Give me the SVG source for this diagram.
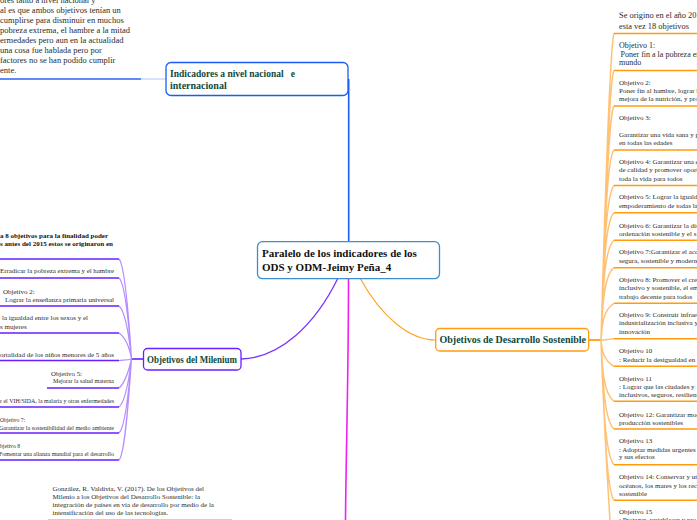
<svg xmlns="http://www.w3.org/2000/svg" width="697" height="520" viewBox="0 0 697 520">
<style>
text{font-family:"Liberation Serif",serif;fill:#2b2b2b}
.t{font-size:7px}
.b{font-size:6.800px;font-weight:bold;fill:#111}
.n{font-size:8.500px}
.r7{font-size:7px}
.r8{font-size:8px}
.h{font-size:10px;font-weight:bold;fill:#0f4a3c}
.c{font-size:11px;font-weight:bold;fill:#111}
.r{fill:#fff;stroke-width:1.3}
.p{fill:none;stroke:#6a1fff}.pl{fill:none;stroke:#b48cff;stroke-width:1.200}
.o{fill:none;stroke:#ff9c0f}.ol{fill:none;stroke:#ffc274;stroke-width:1.500}
</style>
<g id="connectors">
<path d="M348.700 242V79" fill="none" stroke="#1a5cf5" stroke-width="1.6"/>
<path d="M0 79H141" fill="none" stroke="#2a62f0" stroke-width="1.4"/>
<path d="M141 79H166" fill="none" stroke="#bcd0fa" stroke-width="1.200"/>
<path d="M348.500 278C348.500 380 346 450 345.500 520" fill="none" stroke="#f020f0" stroke-width="1.6"/>
<path d="M338 278C315 325 280 358 241 359" fill="none" stroke="#7a33ff" stroke-width="1.300"/>
<path d="M360 278C382 318 410 340 435.500 340" fill="none" stroke="#ffa526" stroke-width="1.200"/>
<path d="M143 359H131.500" class="p" stroke-width="1.600"/>
<path class="pl" d="M131.500 359C129 320 125 265 119 259M131.500 359C129 325 125 283 119 278M131.500 359C129 335 125 311 119 306M131.500 359C129 345 125 337 119 333M131.500 359C128 360 124 360 119 360.500M131.500 359C129 370 125 383 119 388M131.500 359C129 380 125 402 119 407M131.500 359C129 390 125 428 119 433M131.500 359C129 395 125 455 119 460"/>
<path class="p" stroke-width="1.500" d="M0 259H119M0 278H119M0 306H119M0 333H119M0 360.500H119M47 388H119M0 407H119M0 433H119M0 460H119"/>
<path d="M48 519.500H232" fill="none" stroke="#f0b8f0" stroke-width="1"/>
<path d="M589 340H601" class="o" stroke-width="1.800"/>
<path class="ol" d="M601 340C605 200 610 45 614 33.500M601 340C605 220 609 80 614 70.500M601 340C604 240 608 115 614 106M601 340C604 260 606 158 614 150M601 340C603 280 605 195 614 185.500M601 340C603 290 604 222 614 212.700M601 340C603 300 603 250 614 240.300M601 340C602 315 603 276 614 267.700M601 340C602 325 603 310 614 303.300M601 340C605 340 609 339 614 338.700M601 340C602 350 603 360 614 366.300M601 340C602 365 603 393 614 401.300M601 340C603 380 604 420 614 429M601 340C603 400 605 455 614 464.700M601 340C604 410 606 490 614 500.300M601 340C604 420 608 490 610 520"/>
<path class="o" stroke-width="1.500" d="M614 33.500H697M614 70.500H697M614 106H697M614 150H697M614 185.500H697M614 212.700H697M614 240.300H697M614 267.700H697M614 303.300H697M614 338.700H697M614 366.300H697M614 401.300H697M614 429H697M614 464.700H697M614 500.300H697"/>
</g>
<g id="note-indicadores" class="n">
<text x="0" y="3">ores tanto a nivel nacional y</text>
<text x="0" y="12.500">al es que ambos objetivos tenían un</text>
<text x="0" y="22.500">cumplirse para disminuir en muchos</text>
<text x="0" y="32.500">pobreza extrema, el hambre a la mitad</text>
<text x="0" y="42.500">ermedades pero aun en la actualidad</text>
<text x="0" y="52.500">una cosa fue hablada pero por</text>
<text x="0" y="62.500">factores no se han podido cumplir</text>
<text x="0" y="72.500">ente.</text>
</g>
<g id="node-indicadores"><rect class="r" x="166" y="62.500" width="182" height="33" rx="5" stroke="#1a5cf5"/><text class="h" x="170" y="77" xml:space="preserve" textLength="125" lengthAdjust="spacingAndGlyphs">Indicadores a nivel nacional   e</text><text class="h" x="170" y="88.500">internacional</text></g>
<g id="node-central"><rect class="r" x="257.500" y="241.700" width="182" height="37" rx="5" stroke="#3b8ed0"/><text class="c" x="262" y="257">Paralelo de los indicadores de los</text><text class="c" x="262" y="270.500">ODS y ODM-Jeimy Peña_4</text></g>
<g id="node-milenium"><rect class="r" x="143.500" y="348.500" width="97.500" height="21.500" rx="4" stroke="#6a1fff"/><text class="h" x="147" y="362.500" textLength="90" lengthAdjust="spacingAndGlyphs">Objetivos del Milenium</text></g>
<g id="node-ods"><rect class="r" x="435.700" y="328.500" width="153" height="22.500" rx="4" stroke="#ff9c0f"/><text class="h" x="439.500" y="343" textLength="146.500" lengthAdjust="spacingAndGlyphs">Objetivos de Desarrollo Sostenible</text></g>
<g id="left-items" class="t">
<text class="b" x="0" y="237.500" textLength="108" lengthAdjust="spacingAndGlyphs">a 8 objetivos para la finalidad poder</text>
<text class="b" x="0" y="246" textLength="113" lengthAdjust="spacingAndGlyphs">s antes del 2015 estos se originaron en</text>
<text x="0" y="273" textLength="114" lengthAdjust="spacingAndGlyphs">Erradicar la pobreza extrema y el hambre</text>
<text x="3" y="293.500">Objetivo 2:</text><text x="5" y="301.500" textLength="109" lengthAdjust="spacingAndGlyphs">Lograr la enseñanza primaria universal</text>
<text x="2" y="320" textLength="86" lengthAdjust="spacingAndGlyphs">la igualdad entre los sexos y el</text><text x="0" y="328.500">s mujeres</text>
<text x="0" y="356.500" textLength="114" lengthAdjust="spacingAndGlyphs">ortalidad de los niños menores de 5 años</text>
<text x="51" y="375.500" textLength="31" lengthAdjust="spacingAndGlyphs">Objetivo 5:</text><text x="53" y="383" textLength="61" lengthAdjust="spacingAndGlyphs">Mejorar la salud materna</text>
<text x="0" y="402.500" textLength="114" lengthAdjust="spacingAndGlyphs">r el VIH/SIDA, la malaria y otras enfermedades</text>
<text x="0" y="421.500" textLength="25" lengthAdjust="spacingAndGlyphs">Objetivo 7:</text><text x="-1" y="429.500" textLength="115" lengthAdjust="spacingAndGlyphs">Garantizar la sostenibilidad del medio ambiente</text>
<text x="0" y="448" textLength="20" lengthAdjust="spacingAndGlyphs">bjetivo 8</text><text x="-1" y="455.500" textLength="115" lengthAdjust="spacingAndGlyphs">Fomentar una alianza mundial para el desarrollo</text>
</g>
<g id="ref" class="t">
<text x="52.500" y="491" textLength="151.500" lengthAdjust="spacingAndGlyphs">González, R. Valdivia, V. (2017). De los Objetivos del</text>
<text x="52.500" y="499" textLength="147.500" lengthAdjust="spacingAndGlyphs">Milenio a los Objetivos del Desarrollo Sostenible: la</text>
<text x="52.500" y="507" textLength="161.500" lengthAdjust="spacingAndGlyphs">integración de países en vía de desarrollo por medio de la</text>
<text x="52.500" y="515" textLength="115.500" lengthAdjust="spacingAndGlyphs">intensificación del uso de las tecnologías.</text>
</g>
<g id="right-items" class="r7">
<text x="619" y="18" font-size="8.400">Se origino en el año 20</text><text x="619" y="28.500" font-size="8.400">esta vez 18 objetivos</text>
<text class="r8" x="619" y="48">Objetivo 1:</text><text class="r8" x="620.500" y="57">Poner fin a la pobreza en</text><text class="r8" x="619" y="65">mundo</text>
<text x="619" y="85">Objetivo 2:</text><text x="619" y="93">Poner fin al hambre, lograr l</text><text x="619" y="101">mejora de la nutrición, y pro</text>
<text x="619" y="120">Objetivo 3:</text><text x="619" y="136.500">Garantizar una vida sana y p</text><text x="619" y="145">en todas las edades</text>
<text x="619" y="164">Objetivo 4: Garantizar una e</text><text x="619" y="172">de calidad y promover oport</text><text x="619" y="180.500">toda la vida para todos</text>
<text x="619" y="199">Objetivo 5: Lograr la igualda</text><text x="619" y="207.500">empoderamiento de todas la</text>
<text x="619" y="227.500">Objetivo 6: Garantizar la dis</text><text x="619" y="235.500">ordenación sostenible y el s</text>
<text x="619" y="254">Objetivo 7:Garantizar el acce</text><text x="619" y="262.500">segura, sostenible y modern</text>
<text x="619" y="282">Objetivo 8: Promover el cre</text><text x="619" y="290">inclusivo y sostenible, el em</text><text x="619" y="298.500">trabajo decente para todos</text>
<text x="619" y="317">Objetivo 9: Construir infrae</text><text x="619" y="325">industrialización inclusiva y</text><text x="619" y="333.500">innovación</text>
<text x="619" y="353">Objetivo 10</text><text x="619" y="361.500">: Reducir la desigualdad en</text>
<text x="619" y="380.500">Objetivo 11</text><text x="619" y="388.500">: Lograr que las ciudades y</text><text x="619" y="396.500">inclusivos, seguros, resilient</text>
<text x="619" y="416.500">Objetivo 12: Garantizar mod</text><text x="619" y="425">producción sostenibles</text>
<text x="619" y="443">Objetivo 13</text><text x="619" y="451.500">: Adoptar medidas urgentes</text><text x="619" y="459">y sus efectos</text>
<text x="619" y="479">Objetivo 14: Conservar y uti</text><text x="619" y="487.500">océanos, los mares y los rec</text><text x="619" y="495.500">sostenible</text>
<text x="619" y="514">Objetivo 15</text><text x="619" y="522">: Proteger, restablecer y pro</text>
</g>
</svg>
